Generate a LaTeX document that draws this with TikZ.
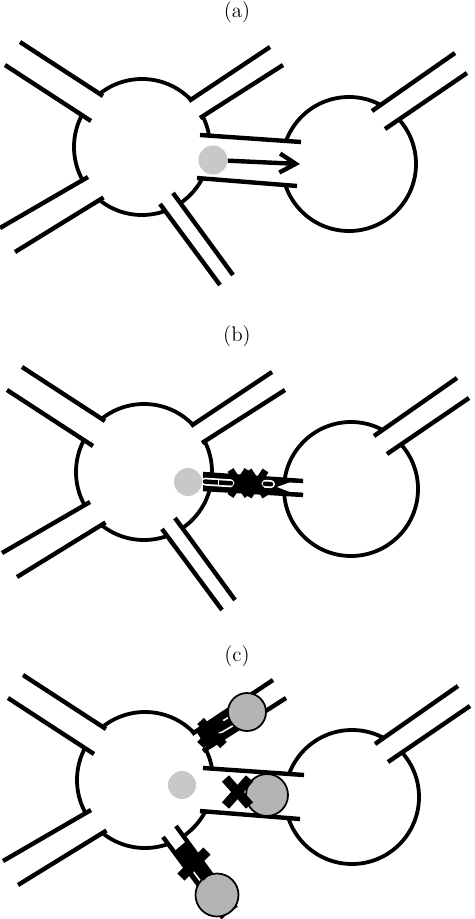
\documentclass[tikz,border=0pt]{standalone}
\usetikzlibrary{arrows.meta, calc}
\definecolor{cdot}{HTML}{C8C8C8}
\definecolor{cball}{HTML}{B4B4B4}
\tikzset{
  wall/.style={line width=0.088cm},
  rim/.style={draw, fill=white, line width=0.076cm},
  dot/.style={circle, fill=cdot, inner sep=0pt, minimum size=#1},
  ball/.style={circle, draw, fill=cball, line width=0.035cm, inner sep=0pt, minimum size=#1},
  capring/.style={white, line width=#1, line cap=round},
  capcore/.style={black, line width=#1, line cap=round},
  tag/.style={font=\fontsize{12}{14}\selectfont},
  pics/xmark/.style n args={3}{code={\draw[line width=#3] (-#1,-#2) -- (#1,#2) (-#1,#2) -- (#1,-#2);}},
}
% one channel: two walls, outer -> inner
\newcommand\channel[4]{%
  \fill[white] #1 -- #2 -- #4 -- #3 -- cycle;
  \draw[wall] #1 -- #2 #3 -- #4;}
% the two chambers with their side channels
\newcommand\bubblepair{%
  \draw[rim] (142,147) circle[radius=68];
  \draw[rim] (349,164) circle[radius=67];
  \channel{(20,42)}{(103,96)}{(5,65)}{(91,121)}
  \channel{(270,47)}{(189,101)}{(283,65)}{(200,118)}
  \channel{(0,228)}{(88,177)}{(15,252)}{(103.5,197.5)}
  \channel{(220,285)}{(160,204)}{(233,275)}{(173,193)}
  \channel{(455,53)}{(372,111)}{(467,73)}{(385,129)}}

\begin{document}
\begin{tikzpicture}[x=0.02cm, y=-0.02cm]
  \path[use as bounding box, fill=white] (0,0) rectangle (474,919);

  % (a)
  \node[tag] (taga) at (237,12) {(a)};
  \bubblepair
  \channel{(200,135)}{(301,142)}{(197,178)}{(297,186)}
  \node[dot=0.58cm] (dota) at (213,160) {};
  \coordinate (heada) at (300,164);
  \draw[wall, -{Straight Barb[length=0.32cm, width=0.38cm]}] (dota) -- (heada);

  % (b)
  \node[tag] (tagb) at (237,336) {(b)};
  \begin{scope}[shift={(2,325)}]
    \bubblepair
    \fill[black] (201,149) -- (301,156) -- (301,170) -- (201,164) -- cycle;
    \fill[white] (275,162) -- (288,157.3) -- (303,158.4) -- (303,167.9) -- (288,167) -- cycle;
    \draw[wall] (201,149) -- (301,156) (201,164) -- (301,170);
    \draw[capring=0.16cm] (203,156.6) -- (229,158.3);
    \draw[capcore=0.09cm] (203,156.6) -- (229,158.3);
    \draw[white, line width=0.03cm] (216.5,154.5) -- (216.5,160.5);
    \draw[capring=0.16cm] (263,158.8) -- (269,159.1);
    \draw[capcore=0.09cm] (263,158.8) -- (269,159.1);
    \pic at (237,158) {xmark={8.5}{13}{0.14cm}};
    \pic at (255,158.5) {xmark={8.5}{13}{0.14cm}};
    \node[dot=0.56cm] (dotb) at (186,157) {};
  \end{scope}

  % (c)
  \node[tag] (tagc) at (237,656) {(c)};
  \begin{scope}[shift={(3,633)}]
    \bubblepair
    \channel{(200,135)}{(301,142)}{(197,178)}{(297,186)}
    \node[dot=0.56cm] (dotc) at (179,152) {};
    % blocked upper channel
    \fill[black] ($(189,101)!0.05!(270,47)$) -- ($(189,101)!0.6!(270,47)$)
      -- ($(200,118)!0.6!(283,65)$) -- ($(200,118)!0.05!(283,65)$) -- cycle;
    \draw[capring=0.22cm] (216.3,95.3) -- (244,79);
    \draw[capcore=0.15cm] (216.3,95.3) -- (244,79);
    \node[ball=0.76cm] (ballu) at (244,79) {};
    \pic at (209,100) {xmark={11.5}{12}{0.18cm}};
    % blocked lower channel
    \fill[black] ($(160,204)!0.18!(220,285)$) -- ($(160,204)!0.79!(220,285)$)
      -- ($(173,193)!0.79!(233,275)$) -- ($(173,193)!0.18!(233,275)$) -- cycle;
    \draw[capring=0.22cm] (195,237) -- (214,262);
    \draw[capcore=0.15cm] (195,237) -- (214,262);
    \node[ball=0.86cm] (balld) at (214,262) {};
    \pic at (191,231) {xmark={13}{13}{0.2cm}};
    % blocked tube
    \node[ball=0.84cm] (ballm) at (264,162) {};
    \pic at (234.5,159) {xmark={12}{13.5}{0.19cm}};
  \end{scope}
\end{tikzpicture}
\end{document}
